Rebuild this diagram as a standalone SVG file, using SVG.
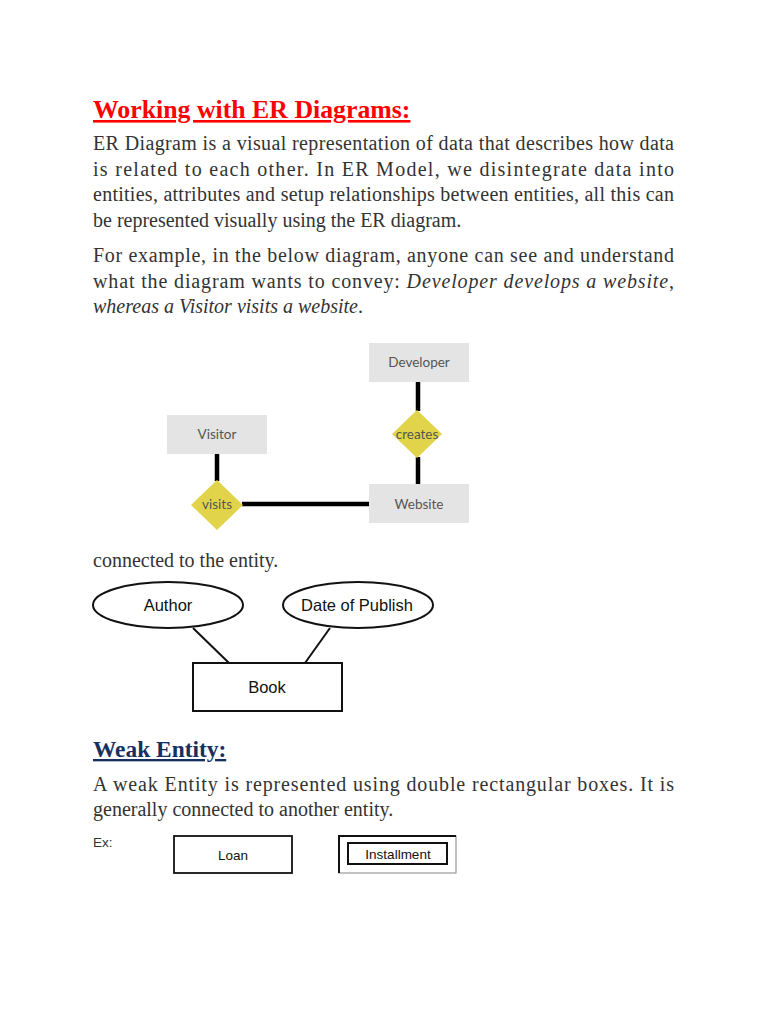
<svg xmlns="http://www.w3.org/2000/svg" width="768" height="1024" viewBox="0 0 768 1024">
<style>
.body{font-family:"Liberation Serif","Times New Roman",serif;font-size:20px;fill:#333}
.it{font-style:italic}
.ent{fill:#e4e4e4}
.lbl{font-family:Lato,"Open Sans",sans-serif;font-size:13.5px;fill:#555;text-anchor:middle}
.rel{fill:#e2d44a}
.conn{stroke:#000;stroke-width:4.5;fill:none}
.thin{stroke:#111;stroke-width:2;fill:none}
.sans{font-family:"Liberation Sans",Arial,sans-serif;fill:#111;text-anchor:middle}
</style>
<rect width="768" height="1024" fill="#fff"/>
<text x="93" y="118" font-family="Liberation Serif,serif" font-size="25.8" font-weight="bold" fill="#f00" text-decoration="underline">Working with ER Diagrams:</text>
<text class="body" x="93" y="150" textLength="581" lengthAdjust="spacing">ER Diagram is a visual representation of data that describes how data</text>
<text class="body" x="93" y="176" textLength="581" lengthAdjust="spacing">is related to each other. In ER Model, we disintegrate data into</text>
<text class="body" x="93" y="201" textLength="581" lengthAdjust="spacing">entities, attributes and setup relationships between entities, all this can</text>
<text class="body" x="93" y="227">be represented visually using the ER diagram.</text>
<text class="body" x="93" y="262" textLength="581" lengthAdjust="spacing">For example, in the below diagram, anyone can see and understand</text>
<text class="body" x="93" y="288" textLength="581" lengthAdjust="spacing">what the diagram wants to convey: <tspan class="it">Developer develops a website</tspan>,</text>
<text class="body" x="93" y="313"><tspan class="it">whereas a Visitor visits a website</tspan>.</text>

<g id="connectors">
<line class="conn" x1="418" y1="382" x2="418" y2="411"/>
<line class="conn" x1="418" y1="457" x2="418" y2="484"/>
<line class="conn" x1="217" y1="454" x2="217" y2="481"/>
<line class="conn" x1="242" y1="504" x2="369" y2="504"/>
<line class="thin" x1="193" y1="628" x2="229" y2="663"/>
<line class="thin" x1="330" y1="628" x2="305" y2="663"/>
</g>

<g id="developer"><rect class="ent" x="369" y="343" width="100" height="39"/><text class="lbl" x="419" y="367">Developer</text></g>
<g id="visitor"><rect class="ent" x="167" y="415" width="100" height="39"/><text class="lbl" x="217" y="439">Visitor</text></g>
<g id="website"><rect class="ent" x="369" y="484" width="100" height="39"/><text class="lbl" x="419" y="509">Website</text></g>
<g id="creates"><polygon class="rel" points="417,410 442,434 417,458 392,434"/><text class="lbl" x="417" y="439">creates</text></g>
<g id="visits"><polygon class="rel" points="217,480 243,505 217,530 191,505"/><text class="lbl" x="217" y="509">visits</text></g>

<text class="body" x="93" y="567">connected to the entity.</text>

<g id="author"><ellipse cx="168" cy="605" rx="75" ry="23" fill="#fff" stroke="#111" stroke-width="2"/><text class="sans" x="168" y="611" font-size="16.5">Author</text></g>
<g id="date"><ellipse cx="358" cy="605" rx="75" ry="23" fill="#fff" stroke="#111" stroke-width="2"/><text class="sans" x="357" y="611" font-size="16.5">Date of Publish</text></g>
<g id="book"><rect x="193" y="663" width="149" height="48" fill="#fff" stroke="#111" stroke-width="2"/><text class="sans" x="267" y="693" font-size="16.5">Book</text></g>

<text x="93" y="757" font-family="Liberation Serif,serif" font-size="23.4" font-weight="bold" fill="#17305f" text-decoration="underline">Weak Entity:</text>
<text class="body" x="93" y="791" textLength="581" lengthAdjust="spacing">A weak Entity is represented using double rectangular boxes. It is</text>
<text class="body" x="93" y="816">generally connected to another entity.</text>
<text x="93" y="847" font-family="Liberation Sans,Arial,sans-serif" font-size="13.5" fill="#333">Ex:</text>

<g id="loan"><rect x="174" y="836" width="118" height="37" fill="#fff" stroke="#111" stroke-width="1.8"/><text class="sans" x="233" y="860" font-size="13.5">Loan</text></g>
<g id="installment"><rect x="339" y="836" width="117" height="37" fill="#fff" stroke="#999" stroke-width="1.2"/><path d="M339,873 V836 H456" fill="none" stroke="#111" stroke-width="2"/><rect x="348" y="843" width="99" height="21" fill="#fff" stroke="#111" stroke-width="2"/><text class="sans" x="398" y="859" font-size="13.5">Installment</text></g>
</svg>
